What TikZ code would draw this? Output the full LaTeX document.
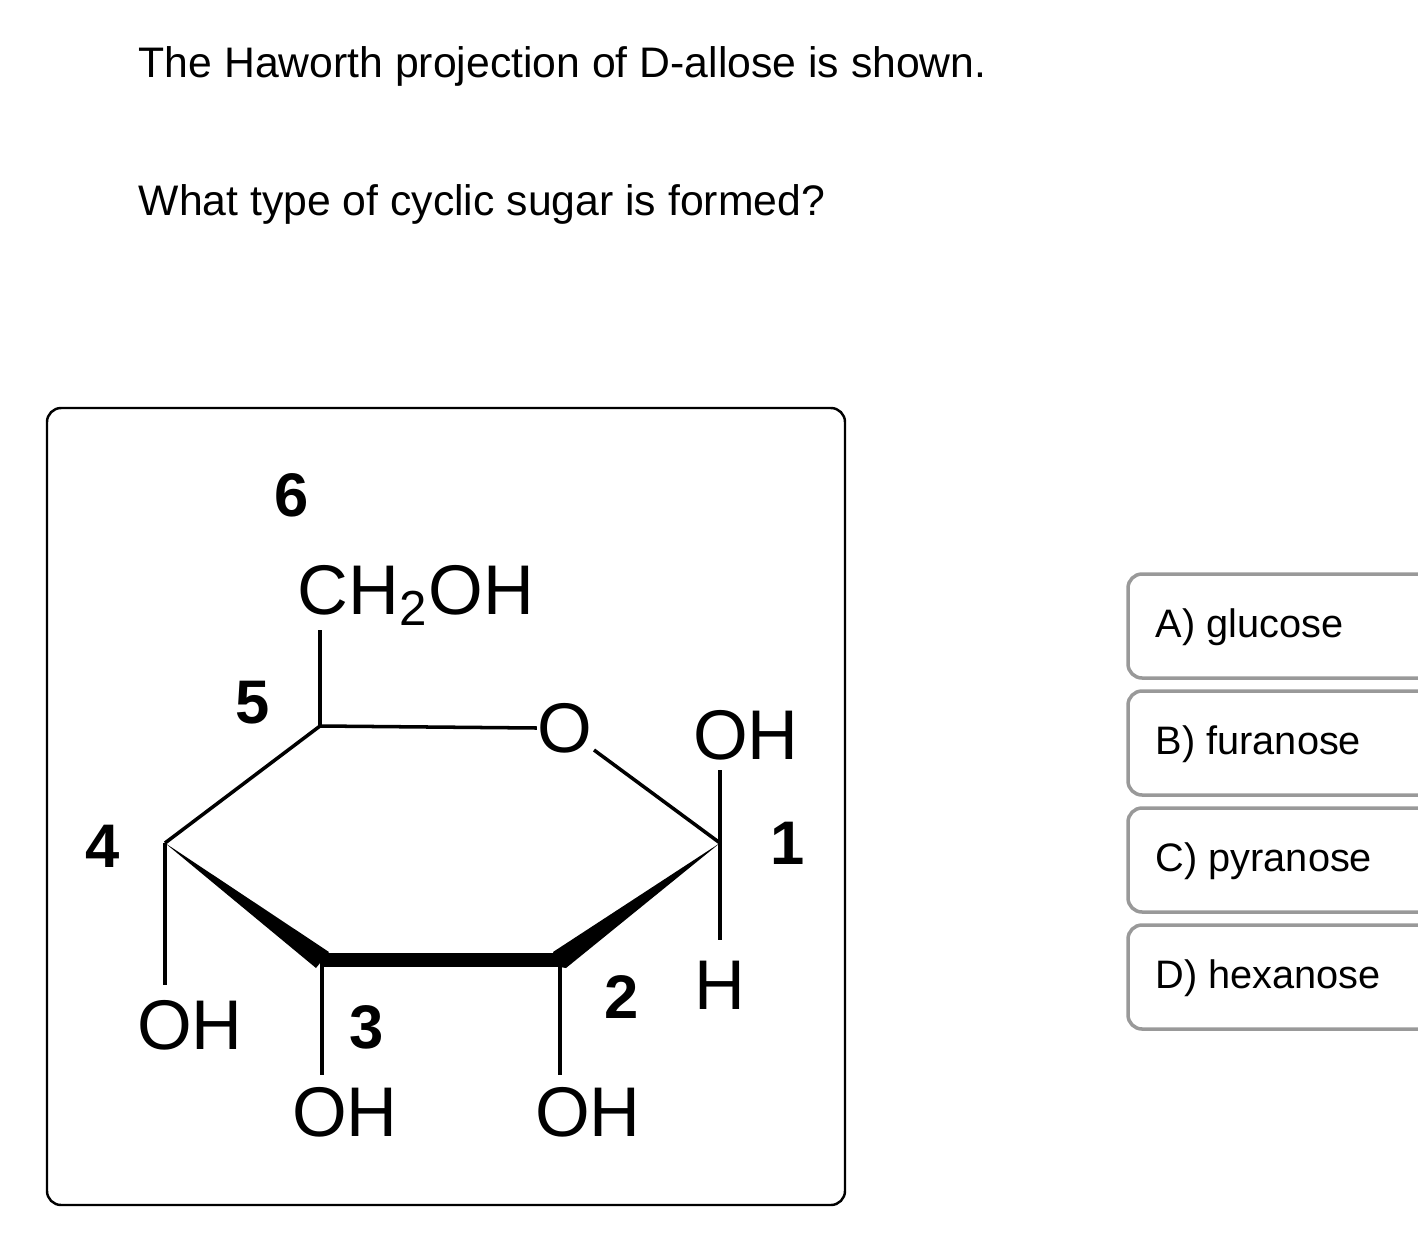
\documentclass[tikz,border=0pt]{standalone}
\usepackage{fontspec}
\setmainfont{Liberation Sans}
\begin{document}
\begin{tikzpicture}[x=0.01cm,y=-0.01cm,
  lbl/.style={inner sep=0pt,font=\fontsize{20}{22}\selectfont},
  num/.style={inner sep=0pt,font=\fontsize{17.5}{20}\selectfont\bfseries},
  bond/.style={line width=1pt}]
\useasboundingbox (0,0) rectangle (1418,1248);
\node[anchor=west,inner sep=0pt,font=\fontsize{12.15}{14}\selectfont] (t1) at (138,66) {The Haworth projection of D-allose is shown.};
\node[anchor=west,inner sep=0pt,font=\fontsize{12.15}{14}\selectfont] (t2) at (138,204) {What type of cyclic sugar is formed?};
\draw[line width=0.7pt,rounded corners=4pt] (47,408) rectangle (845,1205);
% answers
\foreach \y/\t in {574/A) glucose,691/B) furanose,808/C) pyranose,925/D) hexanose}{
  \draw[draw=black!40,line width=1pt,rounded corners=4pt] (1440,\y) -- (1128,\y) -- (1128,\y+104) -- (1440,\y+104);
  \node[anchor=west,inner sep=0pt,font=\fontsize{11.3}{13}\selectfont] at (1155,\y+53) {\t};
}
% ring atoms
\coordinate (c5) at (320,726);
\coordinate (c4) at (165,843);
\coordinate (c3) at (322,960);
\coordinate (c2) at (560,960);
\coordinate (c1) at (720,843);
\node[lbl] (o) at (565,728) {O};
\draw[bond] (c5) -- (o.west);
\draw[bond] (594,750) -- (c1);
\draw[bond] (c5) -- (c4);
\fill (c4) -- (329,952) -- (316,968) -- cycle;
\fill (322,953) -- (560,953) -- (560,967) -- (322,967) -- cycle;
\fill (553,952) -- (c1) -- (566,968) -- (560,967) -- cycle;
% substituents
\node[lbl] (ch) at (416,595) {CH\textsubscript{2}OH};
\draw[bond] (c5) -- (320,630);
\node[lbl] (oh1) at (746,735) {OH};
\node[lbl] (h1) at (720,985) {H};
\draw[bond] (720,770) -- (720,940);
\node[lbl] (oh4) at (190,1025) {OH};
\draw[bond] (c4) -- (165,985);
\node[lbl] (oh3) at (345,1112) {OH};
\draw[bond] (c3) -- (322,1075);
\node[lbl] (oh2) at (588,1112) {OH};
\draw[bond] (c2) -- (560,1075);
% numbers
\node[num] (n6) at (292,495) {6};
\node[num] (n5) at (253,703) {5};
\node[num] (n4) at (103,846) {4};
\node[num] (n3) at (367,1027) {3};
\node[num] (n2) at (622,997) {2};
\node[num] (n1) at (788,843) {1};
\end{tikzpicture}
\end{document}
